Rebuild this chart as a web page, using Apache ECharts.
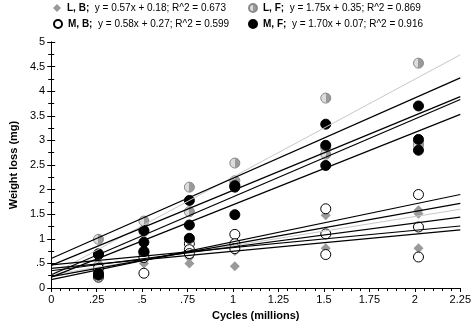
<!DOCTYPE html>
<html><head><meta charset="utf-8">
<script src="https://cdn.jsdelivr.net/npm/echarts@6/dist/echarts.min.js"></script>
<style>html,body{margin:0;padding:0;background:#fff}#c{width:474px;height:326px}</style>
</head><body><div id="c"></div>
<script>
// ---- data ----
const xTicks = ['0', '.25', '.5', '.75', '1', '1.25', '1.5', '1.75', '2', '2.25'];
const yTicks = ['0', '.5', '1', '1.5', '2', '2.5', '3', '3.5', '4', '4.5', '5'];
const cycles = [0.26, 0.51, 0.76, 1.01, 1.51, 2.02];
// three specimens per group at each cycle count
const LB = [[0.45, 0.38, 0.30], [0.57, 0.50, 0.62], [0.82, 0.50, 0.62], [0.88, 0.75, 0.44], [1.48, 0.81, 0.70], [1.58, 1.51, 0.81]];
const LF = [[0.99, 0.70, 0.45], [1.36, 1.15, 0.75], [2.05, 1.55, 1.00], [2.54, 2.18, 2.10], [3.86, 2.85, 2.72], [4.57, 2.95, 2.90]];
const MB = [[0.68, 0.22, 0.40], [0.72, 0.30, 0.62], [0.90, 0.78, 0.70], [1.09, 0.90, 0.80], [1.61, 1.10, 0.68], [1.90, 1.24, 0.63]];
const MF = [[0.69, 0.30, 0.26], [1.17, 0.93, 0.74], [1.78, 1.28, 1.01], [2.08, 2.05, 1.49], [3.33, 2.90, 2.49], [3.70, 3.02, 2.80]];
const legendNames = ['L, B;', 'L, F;', 'M, B;', 'M, F;'];
const legendEq = ['y = 0.57x + 0.18; R^2 = 0.673', 'y = 1.75x + 0.35; R^2 = 0.869',
                  'y = 0.58x + 0.27; R^2 = 0.599', 'y = 1.70x + 0.07; R^2 = 0.916'];
// fitted lines: value at x = 0 and at x = 2.25
const lineXEnds = [0, 2.25];
const blackLines = [[0.60, 4.27], [0.46, 3.89], [0.27, 3.83], [0.22, 3.53],
                    [0.17, 1.90], [0.23, 1.72], [0.35, 1.44], [0.47, 1.26], [0.40, 1.18]];
const grayLines = [[0.27, 4.74], [0.27, 1.60]];

// ---- build ----
function pts(arr) {
  const out = [];
  arr.forEach((g, i) => g.forEach(v => out.push([cycles[i], v])));
  return out;
}
function fmt(v) { return v === 0 ? '0' : String(v).replace(/^0\./, '.'); }
const FONT = 'Liberation Sans';
const halfFill = {type: 'linear', x: 0, y: 0, x2: 1, y2: 0,
  colorStops: [{offset: 0, color: '#dcdcdc'}, {offset: 0.5, color: '#dcdcdc'},
               {offset: 0.5, color: '#9a9a9a'}, {offset: 1, color: '#9a9a9a'}]};
const icons = ['diamond', 'circle', 'circle', 'circle'];

const scatterDefs = [
  {name: legendNames[0], data: pts(LB), symbol: 'diamond', symbolSize: 10, itemStyle: {color: '#9a9a9a', opacity: 1}},
  {name: legendNames[1], data: pts(LF), symbol: 'circle', symbolSize: 10, itemStyle: {color: halfFill, borderColor: '#8a8a8a', borderWidth: 1, opacity: 1}},
  {name: legendNames[2], data: pts(MB), symbol: 'circle', symbolSize: 10, itemStyle: {color: '#fff', borderColor: '#000', borderWidth: 1, opacity: 1}},
  {name: legendNames[3], data: pts(MF), symbol: 'circle', symbolSize: 10, itemStyle: {color: '#000', borderColor: '#000', borderWidth: 1, opacity: 1}}
];
const series = scatterDefs.map(s => Object.assign({type: 'scatter', z: 2, emphasis: {disabled: true}}, s));
blackLines.forEach(l => series.push({type: 'line', silent: true, symbol: 'none', z: 4,
  data: [[lineXEnds[0], l[0]], [lineXEnds[1], l[1]]], lineStyle: {color: '#000', width: 1.2}}));
grayLines.forEach(l => series.push({type: 'line', silent: true, symbol: 'none', z: 3,
  data: [[lineXEnds[0], l[0]], [lineXEnds[1], l[1]]], lineStyle: {color: '#c8c8c8', width: 1}}));

const legendPos = [[48, -2], [243, -2], [48, 14], [243, 14]];
const legends = legendNames.map((n, i) => ({
  data: [{name: n, icon: icons[i]}], left: legendPos[i][0], top: legendPos[i][1], itemWidth: 8, itemHeight: 8, itemGap: 0,
  selectedMode: false,
  formatter: () => '{b|' + n + '}  ' + legendEq[i],
  textStyle: {fontFamily: FONT, fontSize: 10, color: '#000', padding: [0, 0, 0, 1],
    rich: {b: {fontFamily: FONT, fontSize: 10, fontWeight: 'bold', color: '#000'}}}
}));

const axisCommon = {type: 'value', axisLine: {lineStyle: {color: '#000', width: 1}}, splitLine: {show: false}};
const option = {
  animation: false,
  backgroundColor: '#fff',
  legend: legends,
  grid: {left: 40, right: 10, top: 42, bottom: 36},
  xAxis: [
    Object.assign({}, axisCommon, {position: 'bottom', min: 0, max: 2.25, interval: 0.25,
      name: 'Cycles (millions)', nameLocation: 'middle', nameGap: 22,
      nameTextStyle: {fontFamily: FONT, fontSize: 11, fontWeight: 'bold', color: '#000'},
      axisTick: {inside: false, length: 4, lineStyle: {color: '#000'}},
      minorTick: {show: true, splitNumber: 5, length: 3, lineStyle: {color: '#000'}},
      axisLabel: {formatter: v => xTicks[Math.round(v / 0.25)] ?? fmt(v), fontFamily: FONT, fontSize: 11, color: '#000', margin: 6}}),
    Object.assign({}, axisCommon, {position: 'top', min: 0, max: 2.25, interval: 0.25,
      axisTick: {inside: true, length: 4, lineStyle: {color: '#000'}},
      minorTick: {show: true, splitNumber: 5, length: 3, lineStyle: {color: '#000'}},
      axisLabel: {show: false}})
  ],
  yAxis: [
    Object.assign({}, axisCommon, {position: 'left', min: 0, max: 5, interval: 0.5,
      name: 'Weight loss (mg)', nameLocation: 'middle', nameGap: 24, nameRotate: 90,
      nameTextStyle: {fontFamily: FONT, fontSize: 11, fontWeight: 'bold', color: '#000'},
      axisTick: {inside: false, length: 4, lineStyle: {color: '#000'}},
      minorTick: {show: true, splitNumber: 2, length: 3, lineStyle: {color: '#000'}},
      axisLabel: {formatter: v => yTicks[Math.round(v / 0.5)] ?? fmt(v), fontFamily: FONT, fontSize: 11, color: '#000', margin: 6}}),
    Object.assign({}, axisCommon, {position: 'right', min: 0, max: 5, interval: 0.5,
      axisTick: {inside: false, length: 4, lineStyle: {color: '#000'}},
      minorTick: {show: true, splitNumber: 2, length: 3, lineStyle: {color: '#000'}},
      axisLabel: {show: false}})
  ],
  series: series
};
const chart = echarts.init(document.getElementById('c'), null, {renderer: 'canvas'});
chart.setOption(option);
</script></body></html>
